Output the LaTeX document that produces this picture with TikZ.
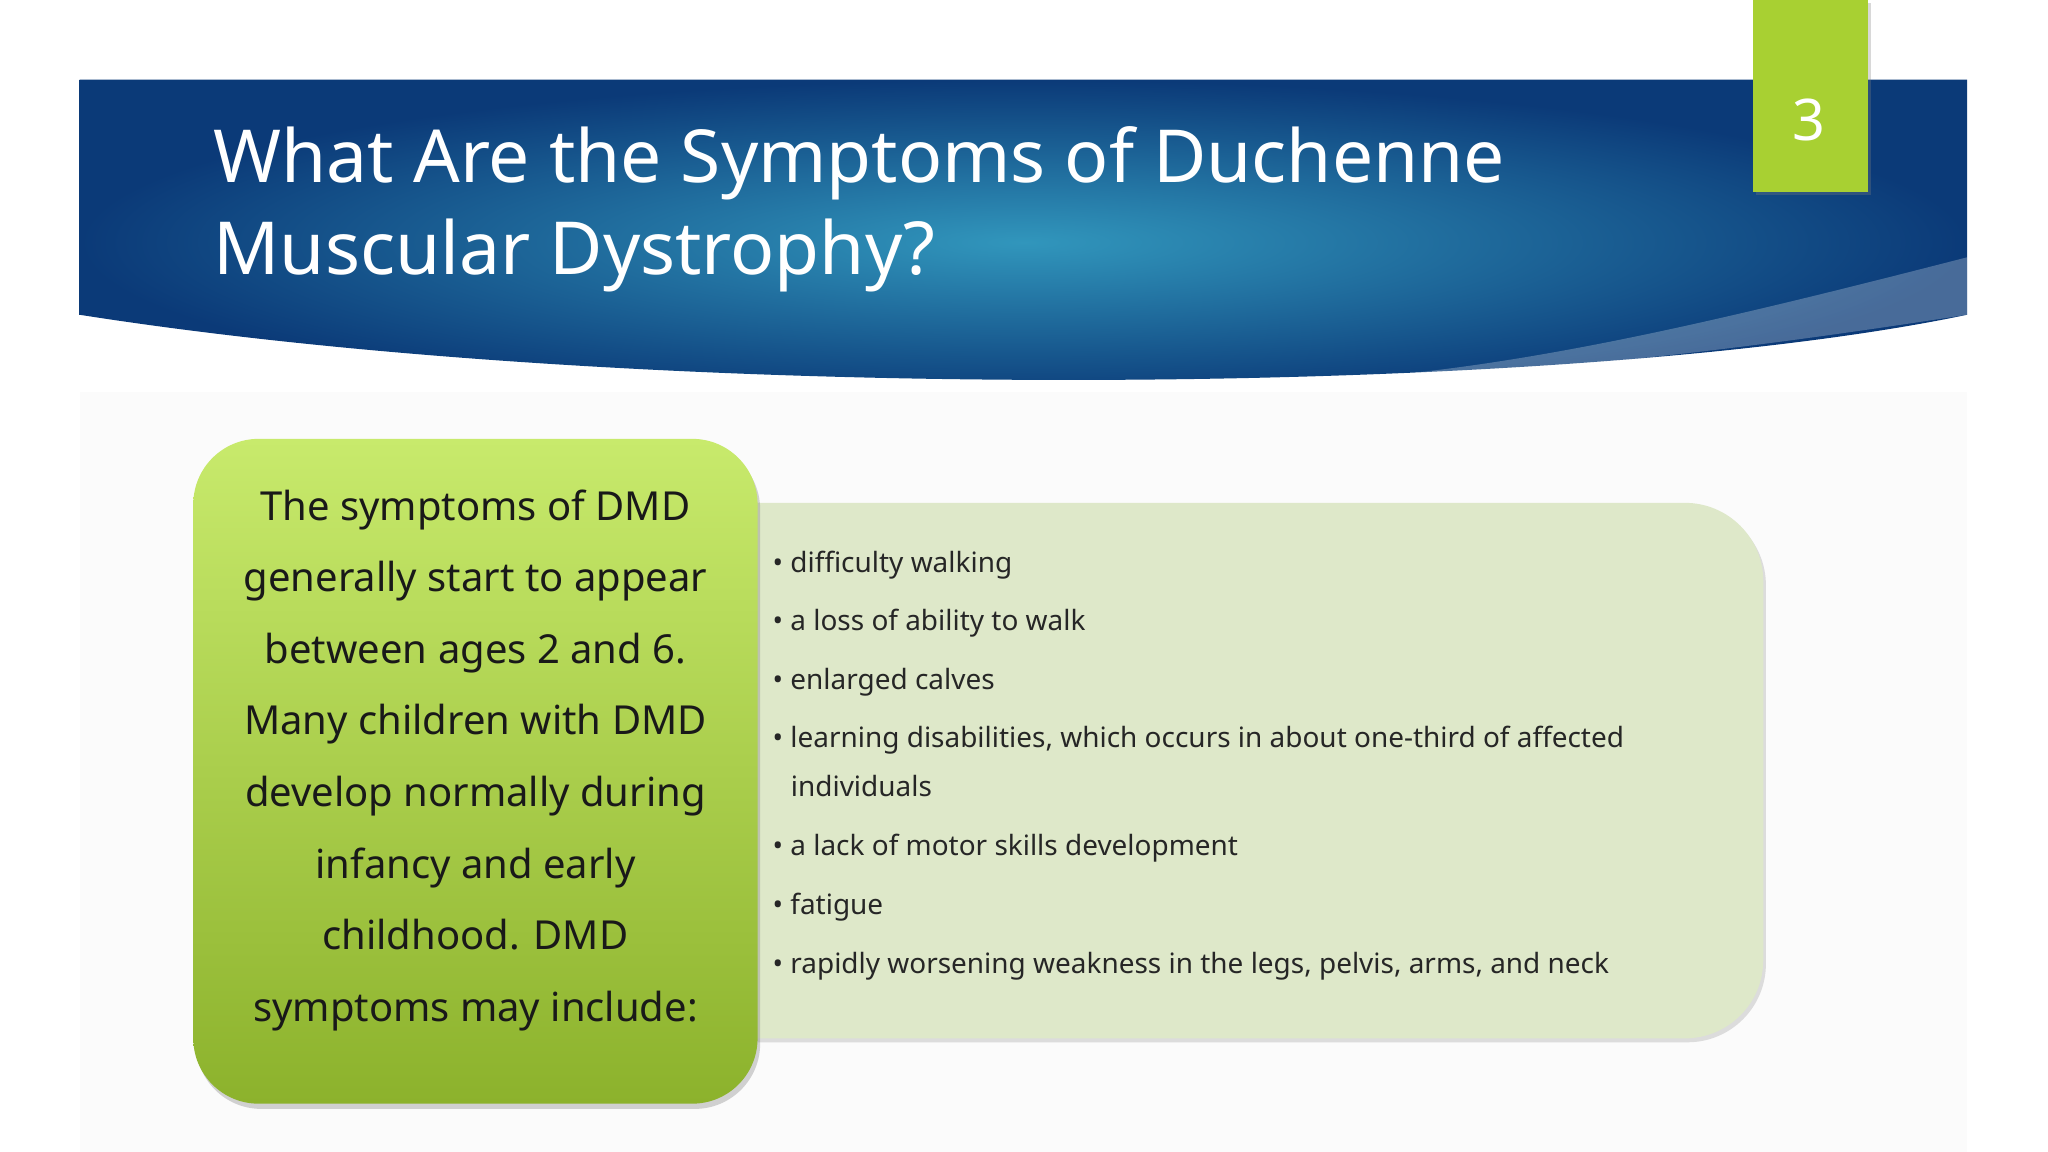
\documentclass[tikz,border=0pt]{standalone}
\usepackage{fontspec}
\setmainfont{Noto Sans}
\usetikzlibrary{shadows,calc}
\definecolor{bandark}{HTML}{0B3A78}
\definecolor{banmid}{HTML}{3196BC}
\definecolor{tab}{HTML}{A8D032}
\definecolor{gtop}{HTML}{C8EA6C}
\definecolor{gbot}{HTML}{8CB22C}
\definecolor{rbox}{HTML}{DEE8C9}
\tikzset{bul/.style={anchor=base west,font=\fontsize{21.4}{26}\selectfont,text=black!85}}
\begin{document}
\begin{tikzpicture}[x=1pt,y=-1pt]
\useasboundingbox (0,0) rectangle (1568,882);
\fill[white] (0,0) rectangle (1568,882);
\fill[black!1.5] (61,300) rectangle (1506,882);
% banner
\shade[inner color=banmid,outer color=bandark] (61,61) -- (1506,61) -- (1506,241) .. controls (1200,305) and (500,310) .. (61,241) -- cycle;
\fill[white,opacity=0.25] (1506,197) .. controls (1300,250) and (1150,285) .. (1000,292) .. controls (1200,285) and (1350,265) .. (1506,241) -- cycle;
\node[anchor=base west,text=white,font=\fontsize{56}{70}\selectfont] (title) at (160,140) {What Are the Symptoms of Duchenne};
\node[anchor=base west,text=white,font=\fontsize{56}{70}\selectfont] (title2) at (160,210) {Muscular Dystrophy?};
\fill[tab,drop shadow={opacity=0.3}] (1342,0) rectangle (1430,147);
\node[text=white,font=\fontsize{44}{50}\selectfont] (num) at (1385,92) {3};
% right box
\fill[rbox,drop shadow={opacity=0.25,shadow xshift=2pt,shadow yshift=-3pt}] (560,385) [rounded corners=60] -- (1350,385) -- (1350,795) [sharp corners] -- (560,795) -- cycle;
% left box
\shade[top color=gtop,bottom color=gbot,rounded corners=50,drop shadow={opacity=0.35,shadow xshift=2pt,shadow yshift=-4pt}] (148,336) rectangle (580,845);
\node[align=center,font=\fontsize{30.6}{54.8}\selectfont,text=black!90] (left) at (364,582) {The symptoms of DMD\\generally start to appear\\between ages 2 and 6.\\Many children with DMD\\develop normally during\\infancy and early\\childhood. DMD\\symptoms may include:};
\node[bul] (b1) at (588,438) {• difficulty walking};
\node[bul] (b2) at (588,483) {• a loss of ability to walk};
\node[bul] (b3) at (588,528) {• enlarged calves};
\node[bul] (b4) at (588,572) {• learning disabilities, which occurs in about one-third of affected};
\node[bul] (b4b) at (602,610) {individuals};
\node[bul] (b5) at (588,655) {• a lack of motor skills development};
\node[bul] (b6) at (588,700) {• fatigue};
\node[bul] (b7) at (588,745) {• rapidly worsening weakness in the legs, pelvis, arms, and neck};
\end{tikzpicture}
\end{document}
